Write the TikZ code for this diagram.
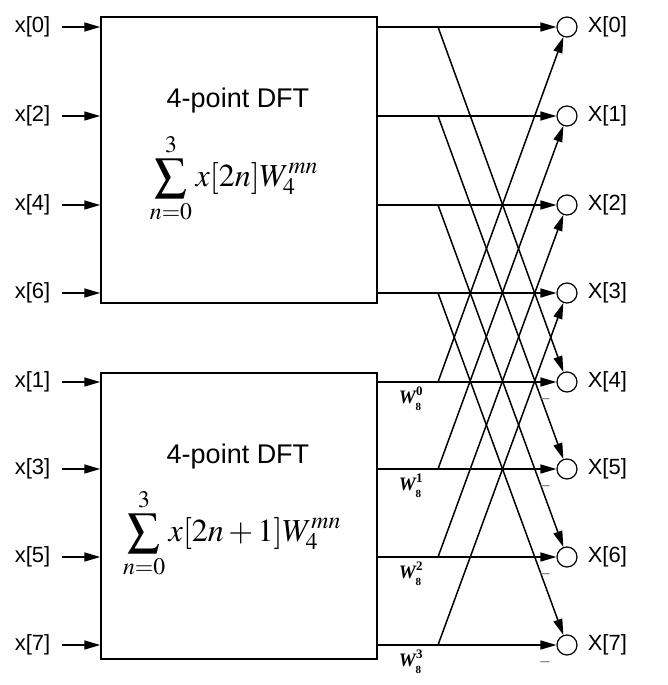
\documentclass[tikz,border=0pt]{standalone}
\usepackage{mathptmx}
\usepackage[no-math]{fontspec}
\setmainfont{Liberation Sans}
\newfontfamily\tms{Liberation Serif}
\usetikzlibrary{arrows.meta}
\newcommand{\twid}[1]{{\itshape W}\rlap{\kern0.5pt\raisebox{8pt}{\fontsize{13}{13}\selectfont #1}}\raisebox{-7pt}{\fontsize{11}{11}\selectfont 8}\kern3pt}
\begin{document}
\begin{tikzpicture}[x=1pt,y=-1pt,
  line width=1.5pt,
  arr/.style={-{Triangle[length=16pt,width=9pt]}},
  lbl/.style={font=\fontsize{22}{26}\selectfont, inner sep=0pt},
  outc/.style={draw, circle, minimum size=20pt, inner sep=0pt, line width=1.2pt},
  dftbox/.style={draw, minimum width=276pt, minimum height=286pt, inner sep=0pt},
  title/.style={font=\fontsize{27}{30}\selectfont, inner sep=0pt, anchor=base},
  formula/.style={font=\fontsize{32}{36}\selectfont, inner sep=0pt},
  tw/.style={font=\fontsize{19}{21}\selectfont\tms\bfseries, inner sep=0pt, anchor=north west},
  neg/.style={font=\fontsize{16}{18}\selectfont, inner sep=0pt, text=black!55},
]
\useasboundingbox (0,0) rectangle (668,685);
% boxes
\node[dftbox] (B1) at (239,160) {};
\node[dftbox] (B2) at (239,516) {};
\node[title] (T1) at (238,107) {4-point DFT};
\node[title] (T2) at (238,463) {4-point DFT};
\node[formula] (F1) at (234,178) {$\displaystyle\sum_{n=0}^{3} x[2n]W_4^{mn}$};
\node[formula] (F2) at (232,533) {$\displaystyle\sum_{n=0}^{3} x[2n+1]W_4^{mn}$};
% rows
\foreach \i/\y/\lab in {0/27/0,1/116/2,2/205/4,3/293/6} {
  \node[lbl, anchor=east] (in\i) at (51,\y) {x[\lab]};
  \draw[arr, shorten <=11pt] (in\i.east) -- (in\i.east -| B1.west);
}
\foreach \i/\y/\lab in {4/382/1,5/469/3,6/557/5,7/645/7} {
  \node[lbl, anchor=east] (in\i) at (51,\y) {x[\lab]};
  \draw[arr, shorten <=11pt] (in\i.east) -- (in\i.east -| B2.west);
}
\foreach \k/\y in {0/27,1/116,2/205,3/293,4/382,5/469,6/557,7/645} {
  \node[outc] (c\k) at (567,\y) {};
  \node[lbl, anchor=west] (X\k) at (587,\y) {X[\k]};
  \coordinate (s\k) at (438,\y);
}
\foreach \k in {0,1,2,3} {
  \draw[arr] (c\k -| B1.east) -- (c\k);
}
\foreach \k in {4,5,6,7} {
  \draw[arr] (c\k -| B2.east) -- (c\k);
}
\foreach \k [evaluate=\k as \m using int(\k+4)] in {0,1,2,3} {
  \draw[arr] (s\k) -- (c\m);
  \draw[arr] (s\m) -- (c\k);
}
% twiddle factors
\foreach \k/\y in {0/382,1/469,2/557,3/645} {
  \node[tw, anchor=base west] (w\k) at (398,\y+21) {\twid{\k}};
}
% minus signs
\foreach \k/\y in {4/382,5/469,6/557,7/645} {
  \node[neg] (m\k) at (545,\y+16) {\_};
}
\end{tikzpicture}
\end{document}
